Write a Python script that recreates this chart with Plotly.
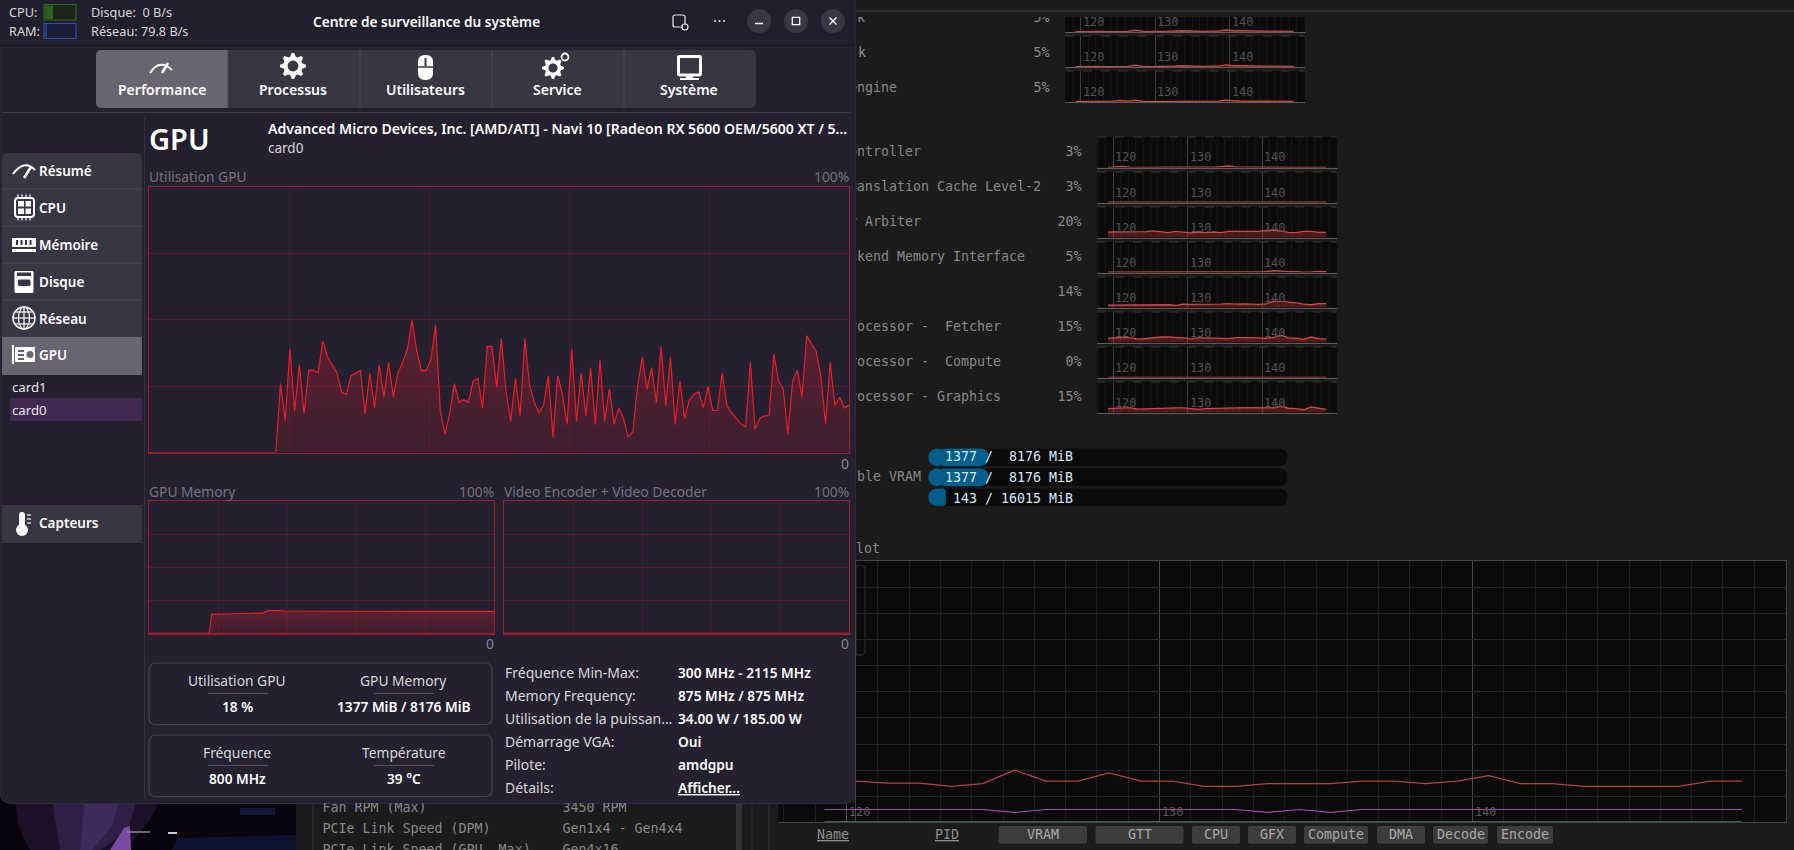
import math
import plotly.graph_objects as go

W, H = 1794, 850

# ---------- data ----------
gpu_usage = [0,0,0,0,0,0,0,0,0,0,0,0,0,0,0,0,0,0,0,0,0,0,0,0,0,0,0,0,
 25.9,11.9,39,15.6,33,14.6,30.9,30.9,30,41.9,35.9,33,30,22.8,21.8,28.8,29.9,30.9,14.6,29.9,16.8,33,20.9,33.9,20.9,30,33.9,38.8,49.9,38,30.8,30.8,34.9,48,15.6,6.8,14.6,25.9,18.9,19.9,18.9,26.9,27.9,16.8,39.9,39.9,24.6,42.9,22.8,11.8,27.9,13.8,42.9,25.3,18.9,14.9,17.8,28.9,5.8,28.9,21.9,10.6,39,11.8,29.9,13.8,31.9,10.6,34.9,11.8,23.9,10.6,16.8,12.8,5.8,7.8,24.9,35.9,23.8,31.9,18.8,39.9,17.8,35.9,10.6,26.9,12.8,19.6,21.8,22.8,16.8,24.8,15.8,15.8,29.9,17.8,14.9,12.8,10.8,9.6,33.9,8.8,12.8,13.8,13.9,36.9,26.9,23.9,6.8,26.9,30.9,20.8,43.9,40.9,38,28.9,10.8,33.9,17.8,20.8,16.8,17.8]
mem_idx = [0, 26, 27, 34, 44, 49, 51, 54, 59, 117, 149]
mem_pct = [0, 0, 14.4, 14.9, 15.2, 15.3, 17, 17.3, 16.9, 16.6, 16.6]
video_idx = [0, 149]
video_pct = [0, 0]

sample_step = 1.0105
samples = [119.3 + sample_step * i for i in range(30)]
row_titles_a = ["k", "k", "engine"]
row_pct_a = ["5%", "5%", "5%"]
spark_a = [
 [1,2,3,2,1,1,2,2,6,2,1,1,2,3,4,3,3,2,3,3,7,4,4,3,3,3,3,3,2,2],
 [1,2,3,2,1,1,2,2,6,2,1,1,2,3,4,3,3,2,3,3,7,4,4,3,3,3,3,3,2,2],
 [1,1,1,1,1,3,5,3,6,2,1,1,2,1,3,2,3,2,3,3,6,4,3,3,3,3,3,3,2,2],
]
row_titles_b = ["ontroller", "ranslation Cache Level-2", "r Arbiter", "kend Memory Interface", "", "rocessor -  Fetcher", "rocessor -  Compute", "rocessor - Graphics"]
row_pct_b = ["3%", "3%", "20%", "5%", "14%", "15%", "0%", "15%"]
spark_b = [
 [0,2,4,1,0,0,0,1,1,0,0,1,1,0,1,3,5,2,1,1,1,1,0,0,0,0,0,0,0,0],
 [1,1,1,1,1,1,2,2,3,3,1,1,1,1,1,1,1,1,2,1,3,2,2,2,1,1,2,1,1,1],
 [18,18,18,17,18,19,22,20,16,20,17,15,18,16,18,16,20,20,20,20,20,23,24,21,17,16,20,20,17,17],
 [1,1,1,1,1,1,1,1,2,1,1,1,1,2,3,2,1,1,2,2,3,3,6,4,3,3,1,2,4,3],
 [8,8,9,9,10,10,10,9,9,7,11,10,10,10,11,11,13,11,12,11,10,12,20,20,18,15,11,9,13,13],
 [14,16,17,15,11,13,16,18,18,17,15,12,15,15,14,14,13,16,17,16,15,14,16,24,15,14,10,18,13,11],
 [0,0,0,0,0,0,0,0,0,0,0,0,0,0,0,0,0,0,0,0,0,0,0,0,0,0,0,0,0,0],
 [13,15,15,15,11,12,13,15,15,15,15,12,10,13,13,14,13,15,16,16,15,14,15,20,14,13,9,18,13,10],
]
plot_x_red = samples[1:]
plot_red = [15.8,15,15,13.8,14.8,20,15.8,15.8,18.9,15.8,15.8,13.8,13.8,14.8,14.8,14.8,15.8,15.8,14.8,15.8,17.9,14.8,14.8,13.8,13.8,13.8,13.8,15.8,15.8]
plot_purple = [4.9,4.9,4.9,4.9,4.9,4.9,3.8,4.9,4.9,4.9,4.9,4.9,4.9,4.9,3.8,4.9,3.8,4.9,4.9,4.9,4.9,4.9,4.9,4.9,4.9,4.9,4.9,4.9,4.9,4.9]
plot_green = [0,0,0,0,0,0,0,0,0,0,0,0,0,0,0,0,0,0,0,0,0,0,0,0,0,0,0,0,0,0]
time_ticks = [120, 130, 140]

vram_names = ["VRAM", "Visible VRAM", "GTT"]
vram_used = [1377, 1377, 143]
vram_total = [8176, 8176, 16015]
vram_text = ["1377 /  8176 MiB", "1377 /  8176 MiB", "143 / 16015 MiB"]

tabs = ["Performance", "Processus", "Utilisateurs", "Service", "Système"]
side = ["Résumé", "CPU", "Mémoire", "Disque", "Réseau", "GPU"]
info_labels = ["Fréquence Min-Max:", "Memory Frequency:", "Utilisation de la puissan…", "Démarrage VGA:", "Pilote:", "Détails:"]
info_values = ["300 MHz - 2115 MHz", "875 MHz / 875 MHz", "34.00 W / 185.00 W", "Oui", "amdgpu", "<u>Afficher...</u>"]
headers = ["VRAM", "GTT", "CPU", "GFX", "Compute", "DMA", "Decode", "Encode"]

# ---------- colours ----------
WIN = "#242030"; HEAD = "#211f2d"; BTN = "#393643"; ACT = "#686570"
TERM = "#1b1b1b"; DARK = "#0b0b0b"; DIM = "#888888"
UI = "Noto Sans"; MONO = "DejaVu Sans Mono"
RED = "#ee1c26"; MUTED = "#cf4745"

shapes, notes, traces, layout_axes = [], [], [], {}
px = lambda x: x / W
py = lambda y: 1 - y / H

def rect(x0, y0, x1, y1, fill=None, line=None, lw=1, r=0, rs="tl tr br bl", dash=None):
    if r:
        tl = r if "tl" in rs else 0; tr = r if "tr" in rs else 0
        br = r if "br" in rs else 0; bl = r if "bl" in rs else 0
        P = lambda x, y: f"{px(x):.6f},{py(y):.6f}"
        d = (f"M{P(x0+tl,y0)} L{P(x1-tr,y0)} Q{P(x1,y0)} {P(x1,y0+tr)} L{P(x1,y1-br)} Q{P(x1,y1)} {P(x1-br,y1)} "
             f"L{P(x0+bl,y1)} Q{P(x0,y1)} {P(x0,y1-bl)} L{P(x0,y0+tl)} Q{P(x0,y0)} {P(x0+tl,y0)} Z")
        s = dict(type="path", path=d)
    else:
        s = dict(type="rect", x0=px(x0), x1=px(x1), y0=py(y0), y1=py(y1))
    s.update(xref="paper", yref="paper", layer="below", fillcolor=fill or "rgba(0,0,0,0)",
             line=dict(color=line or "rgba(0,0,0,0)", width=lw if line else 0, dash=dash or "solid"))
    shapes.append(s)

def hline(x0, y0, x1, y1, c, w=1, dash="solid"):
    shapes.append(dict(type="line", xref="paper", yref="paper", layer="below", x0=px(x0), x1=px(x1),
                       y0=py(y0), y1=py(y1), line=dict(color=c, width=w, dash=dash)))

def circ(cx, cy, r, fill=None, ln=None, lw=1):
    shapes.append(dict(type="circle", xref="paper", yref="paper", layer="below", x0=px(cx-r), x1=px(cx+r),
                       y0=py(cy-r), y1=py(cy+r), fillcolor=fill or "rgba(0,0,0,0)",
                       line=dict(color=ln or "rgba(0,0,0,0)", width=lw if ln else 0)))

def poly(pts, fill):
    d = "M" + " L".join(f"{px(a):.6f},{py(b):.6f}" for a, b in pts) + " Z"
    shapes.append(dict(type="path", path=d, xref="paper", yref="paper", layer="below", fillcolor=fill, line=dict(width=0)))

def arc(x0, y0, cx, cy, x1, y1, c, w=2):
    d = f"M{px(x0):.6f},{py(y0):.6f} Q{px(cx):.6f},{py(cy):.6f} {px(x1):.6f},{py(y1):.6f}"
    shapes.append(dict(type="path", path=d, xref="paper", yref="paper", layer="below", line=dict(color=c, width=w)))

def T(x, y, s, size=13, color="#ffffff", anchor="left", weight=400, font=UI):
    notes.append(dict(x=px(x), y=py(y), xref="paper", yref="paper", text=s, showarrow=False, xanchor=anchor, yanchor="middle",
                      font=dict(family=font, size=size, color=color, weight=weight), borderpad=0, borderwidth=0))

axis_n = [0]
def axes(l, t, r, b, xr, yr, **kw):
    axis_n[0] += 1
    n = axis_n[0]; sfx = "" if n == 1 else str(n)
    base = dict(showticklabels=False, ticks="", zeroline=False, showgrid=False, fixedrange=True)
    xa = dict(base, domain=[px(l), px(r)], range=xr, anchor="y" + sfx); xa.update(kw.get("x", {}))
    ya = dict(base, domain=[py(b), py(t)], range=yr, anchor="x" + sfx); ya.update(kw.get("y", {}))
    layout_axes["xaxis" + sfx] = xa; layout_axes["yaxis" + sfx] = ya
    return "x" + sfx, "y" + sfx

def gear(cx, cy, R, hole_col, teeth=8):
    pts = []
    for i in range(teeth * 4):
        a = 2 * math.pi * (i - 0.5) / (teeth * 4)
        rad = R if i % 4 in (0, 1) else R * 0.74
        pts.append((cx + rad * math.cos(a), cy + rad * math.sin(a)))
    poly(pts, "#ffffff")
    circ(cx, cy, R * 0.42, fill=hole_col)

# ---------- backdrop ----------
rect(0, 0, 296, H, fill="#07040d")
poly([(14,790),(165,790),(150,820),(125,850),(30,850),(18,825)], "#1c1029")
poly([(50,790),(140,790),(128,830),(100,850),(60,850)], "#2f1e46")
poly([(85,800),(120,800),(112,826),(92,850),(80,850)], "#3f2a5c")
poly([(124,828),(130,826),(131,850),(110,850)], "#7a4aa2")
poly([(178,838),(296,835),(296,850),(172,850)], "#0e1230")
rect(240, 808, 275, 815, fill="#12163a")
hline(127, 832, 150, 832, "#8d8690", 1.5); hline(168, 833, 177, 833, "#cfc8c8", 2)
rect(296, 0, W, H, fill=TERM)
rect(856, 10, W, 12, fill="#2e2e2e")
hline(313, 803, 313, H, "#333333"); rect(736, 803, 742, H, fill="#333333")
hline(752, 803, 752, H, "#2a2a2a"); hline(769, 803, 769, H, "#363636")

# ---------- terminal sparklines ----------
def spark(l, r, t, b, series, major0, clip_top=None):
    unit = (r - l) / 32.2
    top = t if clip_top is None else clip_top
    rect(l, top, r, b, fill=DARK)
    if clip_top is None:
        hline(l, t, r, t, "#383838", 1, "dash")
    ymax = 100 * (b - top) / (b - t)
    xr = [120 - (major0 - l) / unit, 120 + (r - major0) / unit]
    xa, ya = axes(l, top, r, b, xr, [0, ymax], x=dict(showgrid=True, dtick=10, tick0=0, gridcolor="#3c3c3c", gridwidth=1,
                  minor=dict(dtick=1, showgrid=True, gridcolor="#161616", gridwidth=1),
                  showline=True, linecolor="#5c5c5c", linewidth=1))
    traces.append(go.Scatter(x=samples, y=series, xaxis=xa, yaxis=ya, mode="lines", fill="tozeroy", fillcolor="rgba(190,50,50,0.38)",
                             line=dict(color=MUTED, width=1.3), hoverinfo="skip", showlegend=False))
    for v in time_ticks:
        notes.append(dict(x=v, y=0, xref=xa, yref=ya, text=str(v), showarrow=False, xanchor="left", yanchor="bottom", xshift=1, yshift=2,
                          font=dict(family=MONO, size=11.8, color="#525252"), borderpad=0))

tops_a = [1, 36, 71]
for i, t in enumerate(tops_a):
    spark(1065, 1304.7, t, t + 31, spark_a[i], 1080.7, clip_top=17 if i == 0 else None)
for i in range(8):
    t = 137 + 35 * i
    spark(1097, 1336.7, t, t + 30.5, spark_b[i], 1113.3)

# clipped terminal text, right part of the screen
tx, ty = axes(856, 17, W, H, [856, W], [H, 17])
term_x, term_y, term_s = [], [], []
for i, y in enumerate([18.5, 53.5, 88.5]):
    term_x += [[865, 866, 897][i], 1049.5]; term_y += [y, y]; term_s += [row_titles_a[i], row_pct_a[i]]
for i in range(8):
    y = 153 + 35 * i
    term_x += [[921, 1041, 921, 1025, 921, 1001, 1001, 1001][i], 1081.5]; term_y += [y, y]; term_s += [row_titles_b[i], row_pct_b[i]]
term_x += [921, 880]; term_y += [477.5, 549.5]; term_s += ["ble VRAM", "lot"]
traces.append(go.Scatter(x=term_x, y=term_y, text=term_s, xaxis=tx, yaxis=ty, mode="text", textposition="middle left",
                         textfont=dict(family=MONO, size=13.3, color=DIM), hoverinfo="skip", showlegend=False))

# clipped terminal text, bottom strip
bx, by = axes(313, 803, 736, H, [313, 736], [H, 803])
traces.append(go.Scatter(x=[322.5, 562.5, 322.5, 562.5, 322.5, 562.5], y=[809, 809, 830, 830, 851, 851],
                         text=["Fan RPM (Max)", "3450 RPM", "PCIe Link Speed (DPM)", "Gen1x4 - Gen4x4", "PCIe Link Speed (GPU, Max)", "Gen4x16"],
                         xaxis=bx, yaxis=by, mode="text", textposition="middle right",
                         textfont=dict(family=MONO, size=13.3, color=DIM), hoverinfo="skip", showlegend=False))

# VRAM bars: rounded tip from the bar, round left end from a marker of the same height
cap = 0.025
fractions = [max(u / t, 2 * cap) for u, t in zip(vram_used, vram_total)]
vx, vy = axes(928, 447.3, 1287.7, 507.3, [0, 1], [2.5, -0.5], y=dict(type="category", categoryorder="array", categoryarray=vram_names))
for vals, col in [([1, 1, 1], "#0a0a0a"), (fractions, "#045f8c")]:
    traces.append(go.Bar(y=vram_names, x=[v - cap for v in vals], base=[cap] * 3, orientation="h", xaxis=vx, yaxis=vy,
                         marker=dict(color=col, line=dict(width=0)), hoverinfo="skip", showlegend=False))
for col in ["#0a0a0a", "#045f8c"]:
    traces.append(go.Scatter(y=vram_names, x=[cap] * 3, xaxis=vx, yaxis=vy, mode="markers", cliponaxis=False,
                             marker=dict(color=col, size=17.6, line=dict(width=0)), hoverinfo="skip", showlegend=False))
for s, y in zip(vram_text, [456.5, 477.5, 498]):
    T(1072.5, y, s, 13.3, "#d4e8fa", "right", font=MONO)

# large plot (part right of the window) and strip under the window
rect(856, 561.3, 1786, 822.3, fill=DARK)
unit = 31.3
full_major = dict(showgrid=True, dtick=10, tick0=0, gridcolor="#4a4a4a", gridwidth=1,
                  minor=dict(dtick=1, showgrid=True, gridcolor="#1e1e1e", gridwidth=1))
px0, py0 = axes(856, 561.3, 1786, 822.3, [120 + (856 - 846.5) / unit, 120 + (1786 - 846.5) / unit], [0, 100],
                x=dict(full_major, showline=True, linecolor="#444444", mirror=True),
                y=dict(showgrid=True, dtick=10, gridcolor="#262626", showline=True, linecolor="#444444", mirror=True))
rect(778, 803, 856, 822.3, fill=DARK)
sx0, sy0 = axes(778, 803, 856, 822.3, [120 - (846.5 - 778) / unit, 120 + (856 - 846.5) / unit], [0, 100 * 19.3 / 261],
                x=dict(full_major, showline=True, linecolor="#444444"))
traces.append(go.Scatter(x=plot_x_red, y=plot_red, xaxis=px0, yaxis=py0, mode="lines", line=dict(color="#b5423f", width=1.2), hoverinfo="skip", showlegend=False))
for xa, ya in [(px0, py0), (sx0, sy0)]:
    traces.append(go.Scatter(x=samples, y=plot_purple, xaxis=xa, yaxis=ya, mode="lines", line=dict(color="#a845ae", width=1.2), hoverinfo="skip", showlegend=False))
    traces.append(go.Scatter(x=samples, y=plot_green, xaxis=xa, yaxis=ya, mode="lines", cliponaxis=False, line=dict(color="#58b09c", width=1.5), hoverinfo="skip", showlegend=False))
for v in time_ticks:
    xa = px0 if v != 120 else sx0; ya = py0 if v != 120 else sy0
    notes.append(dict(x=v, y=0, xref=xa, yref=ya, text=str(v), showarrow=False, xanchor="left", yanchor="bottom", xshift=1, yshift=2,
                      font=dict(family=MONO, size=11.8, color="#5a5a5a"), borderpad=0))
rect(856, 565.7, 865, 655, line="#333333", r=4, rs="tr br")

# table header
T(817, 834, "<u>Name</u>", 13.3, "#8e8e8e", font=MONO)
T(947, 834, "<u>PID</u>", 13.3, "#8e8e8e", "center", font=MONO)
for s, a, b in zip(headers, [998.7, 1095.6, 1192, 1248, 1304, 1377, 1433, 1497], [1087, 1183.5, 1240, 1296, 1368, 1425, 1488, 1553]):
    rect(a, 826, b, 843.7, fill="#3c3c3c", r=2)
    T((a + b) / 2, 834.5, s, 13.3, "#a8a8a8", "center", font=MONO)

# ---------- window ----------
rect(0, -12, 855.5, 803.5, fill=WIN, line="#2e2c3a", lw=1, r=12)
rect(0, -12, 855.5, 45, fill=HEAD, r=12, rs="tr")
hline(0, 45.5, 855, 45.5, "#17161f", 1.5)

# top-left meters
T(9, 12, "CPU:", 12.7, "#d8d8d8"); T(9, 31, "RAM:", 12.7, "#d8d8d8")
rect(44, 4.5, 76, 20, fill="#1c2417", line="#2e6a1c", lw=1.2)
rect(45, 5.5, 53, 19, fill="#2f5f22")
rect(44, 23.5, 76, 38.5, fill="#1a1c38", line="#2d4fa5", lw=1.2)
rect(45, 24.5, 47, 37.5, fill="#2a3f80")
T(91, 12, "Disque:  0 B/s", 12.7, "#d8d8d8"); T(91, 31, "Réseau: 79.8 B/s", 12.7, "#d8d8d8")
T(426, 22, "Centre de surveillance du système", 13.6, "#ffffff", "center", 600)

# header buttons
rect(673, 15, 685, 27, line="#e8e8e8", lw=1.2, r=2)
circ(685, 27, 3, fill=HEAD, ln="#e8e8e8", lw=1.2)
for x in [715, 719.5, 724]:
    circ(x, 21, 1, fill="#e8e8e8")
for x in [759, 796, 833]:
    circ(x, 21, 12, fill="#393645")
hline(755, 23.5, 763, 23.5, "#ffffff", 1.5)
rect(792.3, 17.3, 799.7, 24.7, line="#ffffff", lw=1.3)
hline(829.5, 17.5, 836.5, 24.5, "#ffffff", 1.4); hline(836.5, 17.5, 829.5, 24.5, "#ffffff", 1.4)

# tabs
rect(96, 50, 756, 108, fill=BTN, r=6)
rect(96, 50, 228, 108, fill=ACT, r=6, rs="tl bl")
for x in [228, 360, 492, 624]:
    hline(x, 50, x, 108, "#4c4956", 1)
for s, c in zip(tabs, [162, 293, 425, 557, 689]):
    T(c, 90, s, 14, "#ffffff", "center", 600)
# tab icons
arc(150, 73, 160, 58, 172, 70, "#ffffff", 2); hline(162, 73, 168, 63, "#ffffff", 2.5)
gear(293, 66, 13, BTN)
rect(418, 55, 433, 80, fill="#ffffff", r=7); rect(424.5, 58, 426.5, 66, fill=BTN); hline(418, 67, 433, 67, BTN, 1.5)
gear(553, 68, 11, BTN); circ(565, 57, 3.5, fill=BTN, ln="#ffffff", lw=1.8)
rect(678.5, 56.5, 700.5, 75, line="#ffffff", lw=3, r=1)
rect(686, 75, 693, 78, fill="#ffffff"); rect(680, 78, 699, 80, fill="#ffffff")

hline(2, 112.5, 851, 112.5, "#3b3846", 1)
hline(144.5, 117, 144.5, 798, "#34313f", 1)

# sidebar
rect(2, 153, 142, 337, fill=BTN, r=6, rs="tl tr")
rect(2, 337, 142, 375, fill=ACT)
for y in [189, 226, 263, 300]:
    hline(2, y, 142, y, "#4c4956", 1)
for s, y in zip(side, [171, 207.5, 245, 282, 318.5, 355]):
    T(39.3, y, s, 13.5, "#ffffff", "left", 600)
# sidebar icons
arc(13, 174, 24, 159, 35, 170, "#ffffff", 2); hline(24, 178, 31, 167, "#ffffff", 2.5)
rect(15, 198, 34, 217, line="#ffffff", lw=2, r=3)
rect(18, 201, 24, 206.5, fill="#ffffff"); rect(25.5, 201, 31, 206.5, fill="#ffffff")
rect(18, 208.5, 24, 214, fill="#ffffff"); rect(25.5, 208.5, 31, 214, fill="#ffffff")
for v in [18, 22, 26, 30]:
    hline(v, 194.5, v, 197, "#ffffff", 1.2); hline(v, 218, v, 220.5, "#ffffff", 1.2)
rect(12, 238, 36, 247, fill="#ffffff")
for v in [16, 20.5, 25, 29.5]:
    rect(v, 240, v + 2, 245, fill=BTN)
rect(12, 249, 36, 252, fill="#ffffff")
rect(14.5, 271, 33.5, 293, fill="#ffffff", r=1.5); rect(17.5, 279, 31, 286.5, fill=BTN, line="#ffffff", lw=1, r=2)
rect(17, 272.5, 31, 276, fill=BTN)
circ(24, 318, 11, ln="#ffffff", lw=1.5)
shapes.append(dict(type="circle", xref="paper", yref="paper", layer="below", x0=px(18.5), x1=px(29.5), y0=py(307), y1=py(329), line=dict(color="#ffffff", width=1.2)))
hline(13, 318, 35, 318, "#ffffff", 1.2); hline(24, 307, 24, 329, "#ffffff", 1.2)
hline(15, 312, 33, 312, "#ffffff", 1.2); hline(15, 324, 33, 324, "#ffffff", 1.2)
rect(15, 347, 35, 362, fill="#ffffff", r=1); circ(30, 354.5, 3.5, fill=ACT); rect(18, 350, 24, 352, fill=ACT); rect(18, 354, 24, 356, fill=ACT); rect(18, 358, 24, 360, fill=ACT)
hline(13, 345, 13, 364, "#ffffff", 2)

T(12, 387, "card1", 13.2, "#e8e8e8")
rect(10, 398, 142, 421, fill="#402850")
T(12, 410, "card0", 13.2, "#e8e8e8")

rect(2, 505, 142, 543, fill=BTN)
T(39.3, 523, "Capteurs", 13.5, "#ffffff", "left", 600)
rect(19, 512, 25, 530, fill="#ffffff", r=3); circ(22, 530, 6, fill="#ffffff")
for v in [515, 519, 523]:
    hline(27, v, 31, v, "#ffffff", 1.2)

# header block
T(149, 138, "GPU", 29, "#ffffff", "left", 600)
T(268, 128.5, "Advanced Micro Devices, Inc. [AMD/ATI] - Navi 10 [Radeon RX 5600 OEM/5600 XT / 5…", 14.1, "#ffffff", "left", 600)
T(268, 148, "card0", 13.5, "#d8d8d8")

# GPU plots
def gpu_plot(l, t, r, b, xs, ys):
    line_style = dict(showgrid=True, gridwidth=1, showline=True, linecolor="#a01c2a", linewidth=1.2, mirror=True)
    xa, ya = axes(l, t, r, b, [0, 149], [0, 100], x=dict(line_style, gridcolor="#451c2a", dtick=29.8, tick0=0),
                  y=dict(line_style, gridcolor="#5a1c2a", dtick=25, tick0=0))
    traces.append(go.Scatter(x=xs, y=ys, xaxis=xa, yaxis=ya, mode="lines", line=dict(color=RED, width=1.2), fill="tozeroy",
                             fillgradient=dict(type="vertical", colorscale=[[0, "rgba(215,30,45,0.14)"], [1, "rgba(215,30,45,0.32)"]]),
                             hoverinfo="skip", showlegend=False))

LBL = 13.8
T(149, 176.5, "Utilisation GPU", LBL, "#75727e"); T(849, 176.5, "100%", LBL, "#75727e", "right")
gpu_plot(149, 186.7, 849, 452.5, list(range(len(gpu_usage))), gpu_usage)
T(849, 463, "0", LBL, "#8a8792", "right")
T(149, 491, "GPU Memory", LBL, "#75727e"); T(494, 491, "100%", LBL, "#75727e", "right")
gpu_plot(149.2, 501.3, 494, 633.3, mem_idx, mem_pct)
T(494, 643.5, "0", LBL, "#8a8792", "right")
T(504, 491, "Video Encoder + Video Decoder", LBL, "#75727e"); T(849, 491, "100%", LBL, "#75727e", "right")
gpu_plot(504, 501.3, 849, 633.3, video_idx, video_pct)
T(849, 643.5, "0", LBL, "#8a8792", "right")

# info boxes
for top, bot, a, av, b, bv in [(663, 724.7, "Utilisation GPU", "18 %", "GPU Memory", "1377 MiB / 8176 MiB"),
                               (735, 796.7, "Fréquence", "800 MHz", "Température", "39 °C")]:
    rect(149, top, 492, bot, line="#44414f", lw=1.2, r=7)
    T(237, top + 17.7, a, LBL, "#d8d8d8", "center"); T(403.7, top + 17.7, b, LBL, "#d8d8d8", "center")
    hline(208, top + 30.5, 268, top + 30.5, "#55525f", 1); hline(374, top + 30.5, 434, top + 30.5, "#55525f", 1)
    T(237, top + 43.7, av, 13.7, "#ffffff", "center", 600); T(403.7, top + 43.7, bv, 13.7, "#ffffff", "center", 600)
for s, v, y in zip(info_labels, info_values, [672.7, 695.5, 718.7, 741.7, 764.5, 787.7]):
    T(505, y, s, 14, "#d8d8d8"); T(678, y, v, 13.7, "#ffffff", "left", 600)

fig = go.Figure(traces)
fig.update_layout(width=W, height=H, margin=dict(l=0, r=0, t=0, b=0), paper_bgcolor=TERM, plot_bgcolor="rgba(0,0,0,0)",
                  shapes=shapes, annotations=notes, showlegend=False, barmode="overlay", bargap=0.12, barcornerradius=8.8, **layout_axes)
fig.write_html("out.html", config=dict(displayModeBar=False, staticPlot=True),
               post_script="document.body.style.margin='0';document.documentElement.style.overflow='hidden';")
